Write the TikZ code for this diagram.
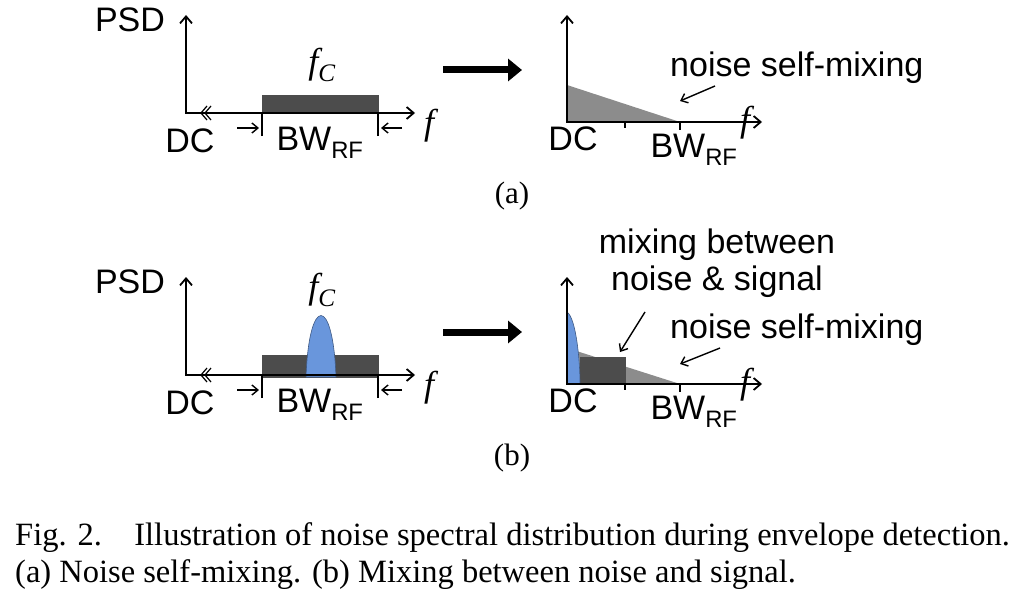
\documentclass[tikz,border=0pt]{standalone}
\usepackage{fontspec}
\setmainfont{Liberation Serif}
\setsansfont{Liberation Sans}
\usetikzlibrary{arrows.meta}
\definecolor{bl}{RGB}{105,150,220}
\begin{document}
\begin{tikzpicture}[x=1pt,y=-1pt,
 ax/.style={line width=1.8pt,-{Straight Barb[length=7pt,width=12pt]}},
 lab/.style={font=\sffamily\fontsize{34}{34}\selectfont,inner sep=0},
 lbl/.style={font=\sffamily\fontsize{34}{34}\selectfont,inner sep=0},
 ital/.style={font=\fontsize{36}{36}\selectfont\itshape,inner sep=0},
 thin/.style={line width=1.4pt,-{Straight Barb[length=6pt,width=10pt]}},
 darkf/.style={fill=black!70,draw=black!70},
 lightf/.style={fill=black!45},
 blue/.style={draw=bl!60!black,line width=0.6pt,fill=bl}]
\useasboundingbox (0,0) rectangle (1027,599);
\foreach \dy/\tag in {0/a,262/b}{
 \begin{scope}[yshift=-\dy pt]
 \node[lab] (psd\tag) at (130,20) {PSD};
 \coordinate (o\tag) at (186,113);
 \coordinate (ytop\tag) at (186,15);
 \coordinate (xend\tag) at (415,113);
 \node[lab] (dc\tag) at (190,141) {DC};
 \node[lab] (bw\tag) at (320,143) {BW\textsubscript{RF}};
 \node[ital] (f\tag) at (429,126) {f};
 \coordinate (t1\tag) at (262,136); \coordinate (t2\tag) at (378,136);
 \coordinate (a1s\tag) at (237,128); \coordinate (a1e\tag) at (259,128);
 \coordinate (a2s\tag) at (402,128); \coordinate (a2e\tag) at (381,128);
 \coordinate (bigs\tag) at (443,70); \coordinate (bige\tag) at (522,70);
 \node[font=\fontsize{31}{31}\selectfont,inner sep=0] (cap\tag) at (512,196) {(\tag)};
 \coordinate (ro\tag) at (567,122);
 \coordinate (rytop\tag) at (567,15);
 \coordinate (rxend\tag) at (762,122);
 \node[lab] (rdc\tag) at (573,139) {DC};
 \node[lab] (rbw\tag) at (694,150) {BW\textsubscript{RF}};
 \node[ital] (rf\tag) at (745,123) {f};
 \end{scope}}
\fill[darkf] (262,95) rectangle (378,113);
\node[ital] (fca) at (322,65) {f\textsubscript{C}};
\fill[darkf] (262,355) rectangle (378,377);
\draw[blue] (306,377) .. controls (309,295) and (333,295) .. (336,377) -- cycle;
\node[ital] (fcb) at (322,290) {f\textsubscript{C}};
\fill[lightf] (567,85) -- (680,122) -- (567,122) -- cycle;
\node[lbl,anchor=west] (nsa) at (670,68) {noise self-mixing};
\coordinate (nsaE) at (680,101);
\draw[thin] (715,86) -- (nsaE);
\fill[lightf] (567,348) -- (680,384) -- (567,384) -- cycle;
\fill[darkf] (580,357) rectangle (625,384);
\draw[blue] (567,312) .. controls (576,318) and (580,360) .. (580,384) -- (567,384) -- cycle;
\node[lbl] (mb) at (717,245) {mixing between};
\node[lbl] (nsig) at (717,282) {noise \& signal};
\draw[thin] (645,312) -- (620,352);
\node[lbl,anchor=west] (nsb) at (670,330) {noise self-mixing};
\draw[thin] (720,348) -- (680,364);
\foreach \tag in {a,b}{
 \draw[ax] (o\tag) -- (ytop\tag);
 \draw[ax] ([xshift=-0.9pt]o\tag) -- (xend\tag);
 \draw[ax] ([xshift=-0.9pt]ro\tag) -- (rxend\tag);
 \draw[ax] (ro\tag) -- (rytop\tag);
 \draw[line width=1.4pt] (t1\tag) -- (t1\tag |- o\tag);
 \draw[line width=1.4pt] (t2\tag) -- (t2\tag |- o\tag);
 \draw[thin] (a1s\tag) -- (a1e\tag);
 \draw[thin] (a2s\tag) -- (a2e\tag);
 \draw[line width=1.2pt] ([xshift=21pt,yshift=-7pt]o\tag) -- ([xshift=15pt]o\tag) -- ([xshift=21pt,yshift=7pt]o\tag);
 \draw[line width=1.2pt] ([xshift=25pt,yshift=-7pt]o\tag) -- ([xshift=19pt]o\tag) -- ([xshift=25pt,yshift=7pt]o\tag);
 \draw[line width=1.4pt] ([xshift=58pt]ro\tag) -- ([xshift=58pt,yshift=-6pt]ro\tag);
 \draw[line width=1.4pt] ([xshift=113pt]ro\tag) -- ([xshift=113pt,yshift=-8pt]ro\tag);
 \draw[line width=7pt,-{Triangle[length=14pt,width=22pt]}] (bigs\tag) -- (bige\tag);
}
\node[anchor=west,font=\fontsize{32.5}{32.5}\selectfont,inner sep=0] (c1) at (15,538) {Fig. 2.\quad Illustration of noise spectral distribution during envelope detection.};
\node[anchor=west,font=\fontsize{32.5}{32.5}\selectfont,inner sep=0] (c2) at (15,575) {(a) Noise self-mixing. (b) Mixing between noise and signal.};
\end{tikzpicture}
\end{document}
